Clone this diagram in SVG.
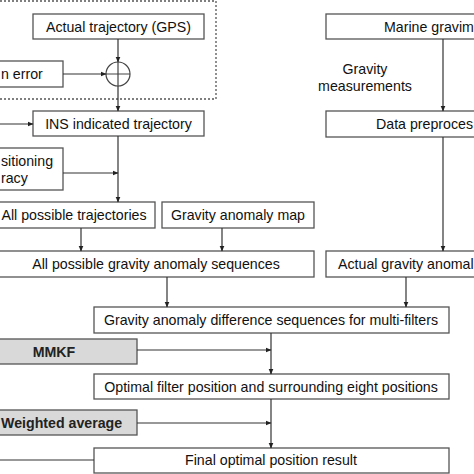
<svg xmlns="http://www.w3.org/2000/svg" width="474" height="474" viewBox="0 0 474 474">
<defs>
<marker id="ah" markerWidth="6" markerHeight="6" refX="5.5" refY="3" orient="auto" markerUnits="userSpaceOnUse">
<path d="M0,0.5 L6,3 L0,5.5 Z" fill="#222"/>
</marker>
<style>
.box{fill:#fff;stroke:#555;stroke-width:1.3}
.gbox{fill:#d9d9d9;stroke:#555;stroke-width:1.3}
.t{font-family:"Liberation Sans",Arial,sans-serif;font-size:14.2px;fill:#111;text-anchor:middle}
.tb{font-family:"Liberation Sans",Arial,sans-serif;font-size:14.2px;font-weight:bold;fill:#222;text-anchor:middle}
.tbs{font-family:"Liberation Sans",Arial,sans-serif;font-size:14.2px;font-weight:bold;fill:#222;text-anchor:start}
.ts{font-family:"Liberation Sans",Arial,sans-serif;font-size:14.2px;fill:#111;text-anchor:start}
.ln{fill:none;stroke:#333;stroke-width:1.2}
.arr{fill:none;stroke:#333;stroke-width:1.2;marker-end:url(#ah)}
</style>
</defs>
<rect width="474" height="474" fill="#fff"/>
<rect x="-20" y="1" width="236" height="98" fill="none" stroke="#555" stroke-width="1.3" stroke-dasharray="2,2"/>

<g id="gps"><rect class="box" x="33" y="14" width="171" height="25"/><text class="t" x="118.5" y="31.5">Actual trajectory (GPS)</text></g>
<g id="sum"><circle cx="118" cy="74" r="12" fill="#fff" stroke="#444" stroke-width="1.2"/><path d="M106,74 H130 M118,62 V86" stroke="#444" stroke-width="1.2"/></g>
<g id="error"><rect class="box" x="-30" y="61" width="93" height="26"/><text class="ts" x="1" y="79">n error</text></g>
<g id="ins"><rect class="box" x="33" y="111" width="171" height="25"/><text class="t" x="118.5" y="128.5">INS indicated trajectory</text></g>
<g id="accuracy"><rect class="box" x="-30" y="148" width="93" height="42"/><text class="ts" x="1" y="166">sitioning</text><text class="ts" x="1" y="183">racy</text></g>
<g id="alltraj"><rect class="box" x="-10" y="202" width="165" height="26"/><text class="t" x="74" y="220">All possible trajectories</text></g>
<g id="map"><rect class="box" x="162" y="202" width="152" height="26"/><text class="t" x="238" y="220">Gravity anomaly map</text></g>
<g id="allseq"><rect class="box" x="-2" y="251" width="316" height="26"/><text class="t" x="156" y="269">All possible gravity anomaly sequences</text></g>
<g id="marine"><rect class="box" x="326" y="14" width="160" height="25"/><text class="ts" x="384" y="31.5">Marine gravim</text></g>
<g id="prep"><rect class="box" x="326" y="111" width="160" height="26"/><text class="ts" x="376" y="129">Data preproces</text></g>
<g id="actual"><rect class="box" x="326" y="251" width="160" height="26"/><text class="ts" x="338" y="269">Actual gravity anomal</text></g>
<g id="meas"><text class="t" x="365" y="74">Gravity</text><text class="t" x="365" y="91">measurements</text></g>
<g id="diff"><rect class="box" x="94" y="307" width="355" height="26"/><text class="t" x="271" y="325">Gravity anomaly difference sequences for multi-filters</text></g>
<g id="mmkf"><rect class="gbox" x="-30" y="339" width="167" height="25"/><text class="tb" x="54" y="356.5">MMKF</text></g>
<g id="optimal"><rect class="box" x="94" y="374" width="355" height="25"/><text class="t" x="271" y="391.5">Optimal filter position and surrounding eight positions</text></g>
<g id="weighted"><rect class="gbox" x="-30" y="410" width="167" height="25"/><text class="tbs" x="1" y="427.5">Weighted average</text></g>
<g id="final"><rect class="box" x="94" y="448" width="355" height="25"/><text class="t" x="271" y="465">Final optimal position result</text></g>

<g id="connectors">
<path class="arr" d="M118,39 V62"/>
<path class="arr" d="M63,74 H106"/>
<path class="arr" d="M118,86 V111"/>
<path class="arr" d="M0,124 H33"/>
<path class="ln" d="M118,136 V173"/>
<path class="arr" d="M63,173 H118"/>
<path class="arr" d="M118,173 V202"/>
<path class="arr" d="M81,228 V251"/>
<path class="arr" d="M222,228 V251"/>
<path class="arr" d="M443,39 V111"/>
<path class="arr" d="M443,137 V251"/>
<path class="arr" d="M167,277 V307"/>
<path class="arr" d="M406,277 V307"/>
<path class="ln" d="M271,333 V350"/>
<path class="arr" d="M137,350 H271"/>
<path class="arr" d="M271,350 V374"/>
<path class="ln" d="M271,399 V423"/>
<path class="arr" d="M137,423 H271"/>
<path class="arr" d="M271,423 V448"/>
<path class="ln" d="M0,460 H94"/>
</g>
</svg>
